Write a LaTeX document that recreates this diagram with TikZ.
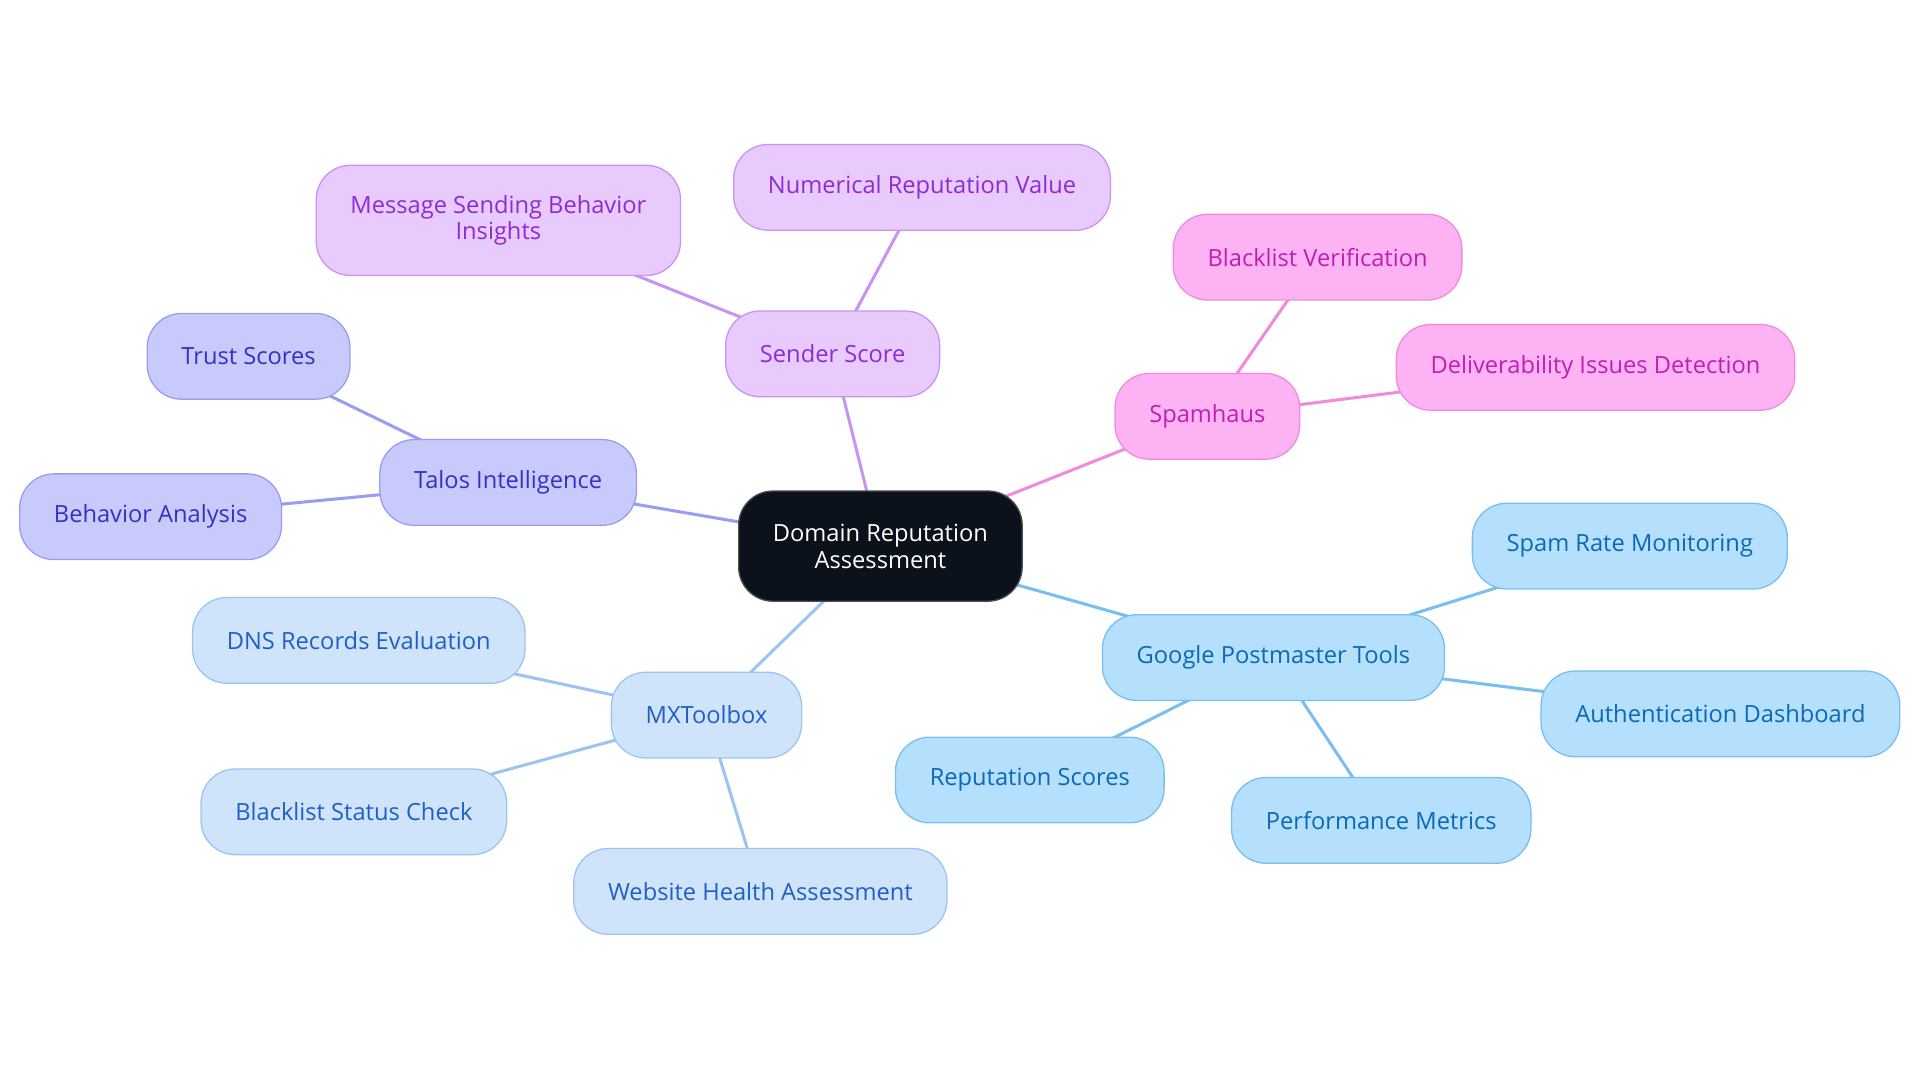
\documentclass[tikz,border=0pt]{standalone}
\usepackage{fontspec}
\setmainfont{Open Sans}
\usetikzlibrary{backgrounds}
\definecolor{rootfill}{HTML}{0C121C}
\definecolor{rootline}{HTML}{4A4D55}
\definecolor{senderfill}{HTML}{E8CAFD}
\definecolor{senderline}{HTML}{C993F2}
\definecolor{sendertext}{HTML}{8E2BD6}
\definecolor{spamfill}{HTML}{FDB3F3}
\definecolor{spamline}{HTML}{EF8ADE}
\definecolor{spamtext}{HTML}{BF1FB4}
\definecolor{talosfill}{HTML}{C9CAFC}
\definecolor{talosline}{HTML}{999CF0}
\definecolor{talostext}{HTML}{3730C4}
\definecolor{mxfill}{HTML}{CFE3FB}
\definecolor{mxline}{HTML}{9CC4F1}
\definecolor{mxtext}{HTML}{1F5FC6}
\definecolor{googlefill}{HTML}{B4DFFD}
\definecolor{googleline}{HTML}{78BEF0}
\definecolor{googletext}{HTML}{0B69B5}
\begin{document}
\begin{tikzpicture}[x=0.02cm,y=-0.02cm,
	box/.style={rounded corners=0.56cm,minimum height=1.4cm,inner xsep=0.56cm,align=center,
		font=\fontsize{11}{12.5}\selectfont,line width=0.6pt},
	sender/.style={box,draw=senderline,fill=senderfill,text=sendertext},
	spam/.style={box,draw=spamline,fill=spamfill,text=spamtext},
	talos/.style={box,draw=talosline,fill=talosfill,text=talostext},
	mx/.style={box,draw=mxline,fill=mxfill,text=mxtext},
	google/.style={box,draw=googleline,fill=googlefill,text=googletext},
	link/.style={line width=1.4pt}]
	\useasboundingbox (0,0) rectangle (1568,884);
	\node [box,draw=rootline,fill=rootfill,text=white,minimum height=1.8cm] (root) at (719,446) {Domain Reputation\\Assessment};
	% sender score branch
	\node [sender] (sender) at (680,289) {Sender Score};
	\node [sender] (numval) at (753,153) {Numerical Reputation Value};
	\node [sender,minimum height=1.8cm] (insights) at (407,180) {Message Sending Behavior\\Insights};
	% spamhaus branch
	\node [spam] (spamhaus) at (986,340) {Spamhaus};
	\node [spam] (blverify) at (1076,210) {Blacklist Verification};
	\node [spam] (deliver) at (1303,300) {Deliverability Issues Detection};
	% talos branch
	\node [talos] (talos) at (415,394) {Talos Intelligence};
	\node [talos] (trust) at (203,291) {Trust Scores};
	\node [talos] (behave) at (123,422) {Behavior Analysis};
	% mxtoolbox branch
	\node [mx] (mxtool) at (577,584) {MXToolbox};
	\node [mx] (dns) at (293,523) {DNS Records Evaluation};
	\node [mx] (blcheck) at (289,663) {Blacklist Status Check};
	\node [mx] (website) at (621,728) {Website Health Assessment};
	% google branch
	\node [google] (postmaster) at (1040,537) {Google Postmaster Tools};
	\node [google] (spamrate) at (1331,446) {Spam Rate Monitoring};
	\node [google] (authdash) at (1405,583) {Authentication Dashboard};
	\node [google] (repscores) at (841,637) {Reputation Scores};
	\node [google] (perf) at (1128,670) {Performance Metrics};
	\begin{scope}[on background layer]
		\draw [link,draw=senderline] (root.center) -- (sender.center);
		\draw [link,draw=senderline] (sender.center) -- (numval.center);
		\draw [link,draw=senderline] (sender.center) -- (insights.center);
		\draw [link,draw=spamline] (root.center) -- (spamhaus.center);
		\draw [link,draw=spamline] (spamhaus.center) -- (blverify.center);
		\draw [link,draw=spamline] (spamhaus.center) -- (deliver.center);
		\draw [link,draw=talosline] (root.center) -- (talos.center);
		\draw [link,draw=talosline] (talos.center) -- (trust.center);
		\draw [link,draw=talosline] (talos.center) -- (behave.center);
		\draw [link,draw=mxline] (root.center) -- (mxtool.center);
		\draw [link,draw=mxline] (mxtool.center) -- (dns.center);
		\draw [link,draw=mxline] (mxtool.center) -- (blcheck.center);
		\draw [link,draw=mxline] (mxtool.center) -- (website.center);
		\draw [link,draw=googleline] (root.center) -- (postmaster.center);
		\draw [link,draw=googleline] (postmaster.center) -- (spamrate.center);
		\draw [link,draw=googleline] (postmaster.center) -- (authdash.center);
		\draw [link,draw=googleline] (postmaster.center) -- (repscores.center);
		\draw [link,draw=googleline] (postmaster.center) -- (perf.center);
	\end{scope}
\end{tikzpicture}
\end{document}
